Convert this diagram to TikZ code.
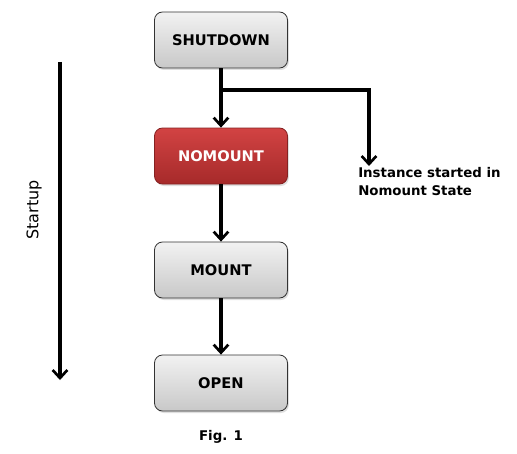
\documentclass[tikz,border=0pt]{standalone}
\usepackage{fontspec}
\setmainfont{DejaVu Sans}
\usetikzlibrary{arrows.meta,shadows}

\definecolor{boxtop}{HTML}{F2F2F2}
\definecolor{boxbot}{HTML}{C8C8C8}
\definecolor{redtop}{HTML}{D24343}
\definecolor{redbot}{HTML}{A62A2A}

\tikzset{
  state/.style={rounded corners=6pt, minimum width=99.75pt, minimum height=42pt,
    draw=black!80, line width=0.6pt, top color=boxtop, bottom color=boxbot,
    drop shadow={shadow xshift=1pt, shadow yshift=-1.5pt, opacity=0.25},
    font=\fontsize{11}{13}\selectfont\bfseries},
  redstate/.style={state, draw=redbot!80!black, top color=redtop, bottom color=redbot, text=white},
  flow/.style={line width=2.3pt, -{Straight Barb[length=6pt, width=11pt, line width=2pt]}},
}

\begin{document}
\begin{tikzpicture}[x=0.75pt, y=-0.75pt, font=\fontsize{10}{13.5}\selectfont\bfseries]
    \useasboundingbox (0,0) rectangle (517,453);
    \foreach \name/\txt/\y/\sty in {
      shut/SHUTDOWN/40/state,
      nomnt/NOMOUNT/156/redstate,
      mnt/MOUNT/270/state,
      open/OPEN/383/state} {
      \node[\sty] (\name) at (221,\y) {\txt};
    }
    \draw[flow] (shut) -- (nomnt);
    \draw[flow] (nomnt) -- (mnt);
    \draw[flow] (mnt) -- (open);
    % branch to the side note
    \coordinate (br) at (221,90);
    \coordinate (tip) at (369,166);
    \draw[flow] (br) -| (tip);
    \node[anchor=north west, align=left, inner sep=0pt] (inst) at (358,167)
      {Instance started in\\Nomount State};
    % startup direction
    \coordinate (stA) at (60,62);
    \coordinate (stB) at (60,380);
    \draw[flow] (stA) -- (stB);
    \node[rotate=90, font=\fontsize{12}{14}\selectfont] (startup) at (34,210) {Startup};
    \node (fig) at (221,437) {Fig. 1};
\end{tikzpicture}
\end{document}
